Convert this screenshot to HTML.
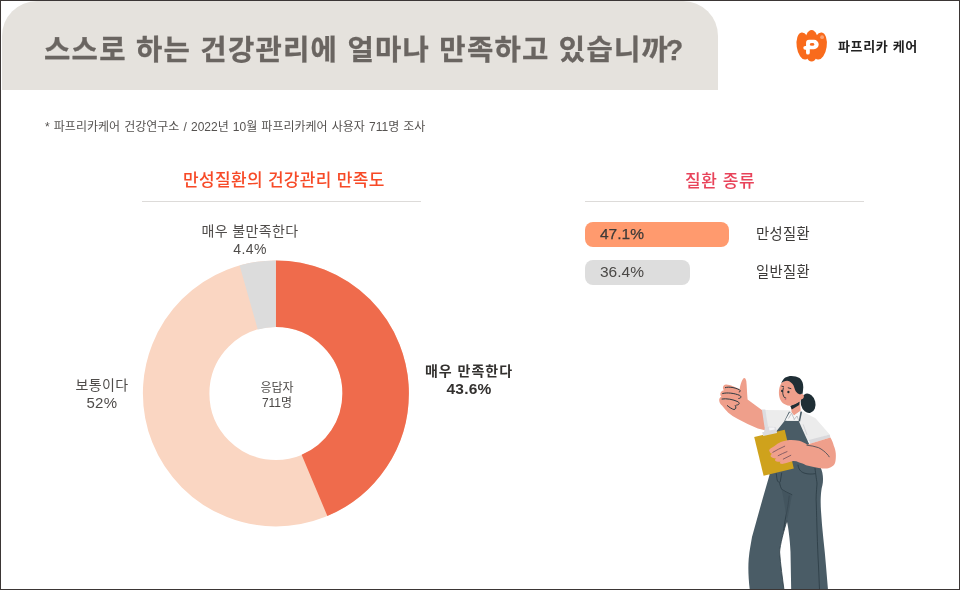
<!DOCTYPE html>
<html lang="ko">
<head>
<meta charset="utf-8">
<title>스스로 하는 건강관리 만족도</title>
<style>
  html, body { margin: 0; padding: 0; }
  body {
    width: 960px; height: 590px; overflow: hidden; background: #ffffff;
    font-family: "Liberation Sans", "Noto Sans CJK KR", sans-serif;
    color: #444240;
  }
  #frame {
    position: relative; width: 958px; height: 588px;
    border: 1px solid #3b3635; background: #ffffff; overflow: hidden;
  }
  .abs { position: absolute; white-space: nowrap; line-height: 1; will-change: transform; }
  #banner {
    position: absolute; left: 0.5px; top: 0; width: 716px; height: 88.5px;
    background: #e5e2dd; border-radius: 35px 35px 0 0;
  }
  #title { left: 43px; top: 35px; font-size: 28.6px; letter-spacing: 1.27px; font-weight: 700; color: #6a6561; -webkit-text-stroke: 0.3px #6a6561; }
  #title .q { margin-left: -3.5px; }
  #brand { left: 837px; top: 39px; font-size: 13px; letter-spacing: 0.65px; font-weight: 700; color: #222222; }
  #source { left: 44px; top: 120px; font-size: 12px; word-spacing: 0.8px; color: #555250; }
  .h { font-size: 17px; font-weight: 500; letter-spacing: 0.33px; }
  #h1 { left: 182px; top: 171px; color: #f74a27; }
  #h2 { left: 684px; top: 172px; color: #e8435a; letter-spacing: 0.6px; }
  .rule { position: absolute; height: 1px; background: #dddbd9; }
  #r1 { left: 141px; top: 200px; width: 279px; }
  #r2 { left: 584px; top: 200px; width: 279px; }
  .lbl { font-size: 14px; letter-spacing: 0.4px; text-align: center; line-height: 18px; color: #4f4c4a; }
  #l1 { left: 149px; width: 200px; top: 221px; }
  #l2 { left: 1px; width: 200px; top: 375px; }
  #l2 .n { font-size: 15px; line-height: 17px; }
  #l3 { left: 368px; width: 200px; top: 361px; font-weight: 700; letter-spacing: 1px; color: #33312f; }
  #l3 .n { font-size: 15.5px; letter-spacing: 0.2px; }
  #center { left: 176px; width: 200px; top: 380px; font-size: 12px; line-height: 15px; text-align: center; color: #4a4745; }
  .bar { position: absolute; height: 25px; border-radius: 8px; }
  #b1 { left: 584px; top: 221px; width: 144px; background: #ff9a6e; }
  #b2 { left: 584px; top: 259px; width: 105px; background: #dddddd; }
  .pct { font-size: 15.5px; color: #3c3a38; }
  #p1 { left: 599px; top: 225px; -webkit-text-stroke: 0.25px #3c3a38; }
  #p2 { left: 599px; top: 263px; color: #4a4846; }
  .cat { font-size: 14.3px; letter-spacing: 0.35px; color: #3c3a38; }
  #c1 { left: 755px; top: 226px; }
  #c2 { left: 755px; top: 264px; }
  svg { position: absolute; left: 0; top: 0; overflow: visible; }
</style>
</head>
<body>
<div id="frame">
  <div id="banner"></div>
  <div id="title" class="abs">스스로 하는 건강관리에 얼마나 만족하고 있습니까<span class="q">?</span></div>

  <div id="brand" class="abs">파프리카 케어</div>
  <div id="source" class="abs">* 파프리카케어 건강연구소 / 2022년 10월 파프리카케어 사용자 711명 조사</div>

  <div id="h1" class="abs h">만성질환의 건강관리 만족도</div>
  <div id="r1" class="rule"></div>
  <div id="h2" class="abs h">질환 종류</div>
  <div id="r2" class="rule"></div>

  <!-- donut chart -->
  <svg id="donut" width="958" height="588" viewBox="1 1 958 588">
    <g transform="translate(275.9 393.4)">
      <circle r="99.75" fill="none" stroke="#fad6c2" stroke-width="66.5"/>
      <circle r="99.75" fill="none" stroke="#ef6b4c" stroke-width="66.5" stroke-dasharray="273.26 1000" transform="rotate(-90)"/>
      <circle r="99.75" fill="none" stroke="#dcdcdc" stroke-width="66.5" stroke-dasharray="27.58 1000" transform="rotate(-105.84)"/>
    </g>
  </svg>

  <div id="l1" class="abs lbl">매우 불만족한다<br>4.4%</div>
  <div id="l2" class="abs lbl">보통이다<br><span class="n">52%</span></div>
  <div id="l3" class="abs lbl">매우 만족한다<br><span class="n">43.6%</span></div>
  <div id="center" class="abs">응답자<br>711명</div>

  <div id="b1" class="bar"></div>
  <div id="b2" class="bar"></div>
  <div id="p1" class="abs pct">47.1%</div>
  <div id="p2" class="abs pct">36.4%</div>
  <div id="c1" class="abs cat">만성질환</div>
  <div id="c2" class="abs cat">일반질환</div>

  <!-- logo + illustration svg -->
  <svg id="art" width="958" height="588" viewBox="1 1 958 588">
    <g id="logo">
      <g fill="#f96b1c">
        <ellipse cx="803.5" cy="46" rx="6.8" ry="13.7" transform="rotate(-8 803.5 46)"/>
        <ellipse cx="819.8" cy="46" rx="6.9" ry="13.7" transform="rotate(8 819.8 46)"/>
        <ellipse cx="811.6" cy="45.8" rx="7.3" ry="15.8"/>
        <rect x="801" y="36" width="21.5" height="19"/>
      </g>
      <circle cx="822.1" cy="37.2" r="1.9" fill="#fca274"/>
      <path fill="#ffffff" d="M806.05 42.8 A3 3 0 0 1 809.05 39.8 H814 A4.7 4.7 0 0 1 814 49.2 H809.8 V52.7 A1.875 1.875 0 0 1 806.05 52.7 V49.7 H805.15 A1.85 1.85 0 0 1 805.15 46 H806.05 Z"/>
      <ellipse cx="812.1" cy="44.4" rx="2.35" ry="1.3" fill="#f96b1c"/>
    </g>
    <g id="woman">
      <!-- left arm (thumbs up) -->
      <path fill="#ef9f8b" d="M744 378.1 C742.2 379 740.6 384 739.6 389.2 C736 387.2 730 384.6 726.2 384.4 C724.2 384.4 722.8 386 722.9 388 C723 389 723.4 389.8 723.9 390.3 C721.6 390.6 720.2 392.4 720.3 394.4 C720.4 395.4 720.8 396.2 721.4 396.7 C719.8 397.2 719 398.8 719.2 400.6 C719.4 402.6 720.4 404.2 722 405.6 C724 408.2 726 410.6 728.3 412.7 C731 415 734 417 737.4 418.8 L747.6 423.9 L757.8 428.5 L768 431 L768 410.5 L762.9 410.7 L755.7 405.6 L747.6 399.5 C747 393 746.9 386 746.3 381 C745.8 378.8 745 377.8 744 378.1 Z"/>
      <g fill="none" stroke="#2b3a42" stroke-width="1" stroke-linecap="round" stroke-linejoin="round">
        <path d="M725.4 387.6 C729 386.4 735 387.6 739.5 389.8 C740.6 390.6 740.6 391.8 739.2 392"/>
        <path d="M722.6 393.5 C727 392.2 734.5 393.2 739.7 395.4 C741.6 396.6 741.4 398.2 738.8 398.5"/>
        <path d="M722 399 C726.5 398.2 733 399.4 737.9 401.7 C740 403 739.6 404.8 736.6 405.1"/>
        <path d="M727.3 405.6 C729.5 407.5 732 409 733.9 409.5 C735.8 409.4 736.6 407.6 735.3 405.5"/>
      </g>
      <!-- shirt -->
      <path fill="#ececec" d="M763 410 L788 410.2 L801.3 411.1 L815.5 418.2 L829.7 434.5 L808.9 441 L800 444 L777 431 L766 431.5 Z"/>
      <!-- left cuff band -->
      <path fill="#dcdce0" d="M761.9 409.6 L765.3 409.4 L768 426.6 L764.6 427.4 Z"/>
      <!-- right cuff band -->
      <path fill="#d9d9dc" d="M808.9 440.1 L829.7 434.5 L830.4 437.6 L809.9 443.8 Z"/>
      <!-- overalls -->
      <path fill="#4a5c66" d="M784.7 420.8 L798.6 420.8 L804.3 433.5 L808.4 442.6 L820.3 467 C823.2 472 823.6 480 822.4 485.3 C821 490 820.2 500 821 511 C822 530 824.7 548 826 566 L828 590 L791.2 590 L790.5 552 C790 540 788.5 528 786.8 521 C784 530 780 545 779.6 552 C780.5 565 782.5 578 784 590 L749.8 590 C748.4 578 748 568 748.7 559 C749.5 550 751 543 752 537 L763 497.4 L769.5 475 L769 440 L777 430.5 Z"/>
      <!-- straps -->
      <path fill="none" stroke="#4a5c66" stroke-width="1.9" d="M789.9 412 L785.3 421.2"/>
      <path fill="none" stroke="#4a5c66" stroke-width="2.2" d="M801 411.6 L799 421.2"/>
      <!-- sleeve crease -->
      <path fill="none" stroke="#c9c9cd" stroke-width="0.7" stroke-linecap="round" d="M803.3 424.8 L806.9 434.5"/>
      <!-- overall detail lines -->
      <g fill="none" stroke="#2b3b44" stroke-width="0.8" stroke-linecap="round">
        <path d="M798 465 C798.6 469.5 800.6 471.7 804 473 C808 474.4 812 474.2 815 473.7"/>
        <path d="M815 468.3 C815.6 474 817 482 817 484 C816.4 492 815.8 498 816.3 504 C816.8 520 817.3 545 818.5 566 L819.5 590"/>
        <path d="M776.3 473.7 C776.6 477 777 480 777.6 481.2 C778.6 482.6 780.4 482.6 780.3 481.5 L781.7 473"/>
        <path d="M779.7 483.2 C780.2 486 781 488 781.7 489.3 C785 491.5 788.5 493.2 791.9 494.7"/>
        <path d="M789.2 496 C788.6 502 787.6 508 787 511 C785.5 518 784.2 524 783.7 530"/>
        <path d="M786.8 521 C784 530 780 545 779.6 552 C780.5 565 782.5 578 784 590"/>
      </g>
      <path fill="#3f505a" d="M781.7 489.3 C785 491.5 788.5 493.2 791.9 494.7 C790.5 503 789 512 786.8 521 C785.6 512 784 500 781.7 489.3 Z" opacity="0.6"/>
      <!-- clipboard -->
      <path fill="#cfa21c" d="M754.2 436.9 L784.7 429.7 L793.8 468.6 L763.6 475.7 Z"/>
      <path fill="#dcdce0" d="M765 426.6 L775.6 426.9 L776.2 430 L764 432.4 Z"/>
      <path fill="#dcdce0" d="M762.2 432.2 L776.4 429.4 L777.1 432.9 L763.2 436 Z"/>
      <path fill="#f4f4f6" d="M769 427.6 L774.4 427.6 L774.8 429.6 L769.4 430.4 Z"/>
      <!-- right arm -->
      <path fill="#ef9f8b" d="M769.6 451.6 C768.8 450.5 769.2 449.6 770.5 448.6 L774.2 446.2 C776.5 444.5 778.5 443.2 780.9 442.1 C783.8 440.9 786.7 440.3 789.7 440.1 C793 440 796.2 440.2 799.2 440.8 C802.2 441.7 805 443.2 807.4 444.8 L809.9 443.8 L830.4 437.6 C832 440 833 443 833.8 445.7 C835 448.5 835.6 451 835.8 453.8 C836 457 835.8 460 835.3 462 C834.6 464.5 833.5 465.8 832 466.5 C830.5 467.6 828.8 468.3 827 468.5 C822 468.6 816 467.5 811.4 466.4 L806 465.2 C803.5 464 801.5 463 799.2 462.5 C797 461.5 795 461 793.1 461.1 C790.5 461.6 788.5 462.6 786.4 463.1 C784.5 463.8 782 464.2 780.8 463.8 C779.6 463.4 779.6 462.4 780.6 461.8 C778 462 775.4 461.4 775 460.3 C774.8 459.4 775.6 458.8 776.5 458.4 C774 458.6 771 457.6 770.6 456.3 C770.4 455.2 771.2 454.4 772.2 453.8 C770.8 453.6 769.8 452.6 769.6 451.6 Z"/>
      <g fill="none" stroke="#6e4f5c" stroke-width="0.8" stroke-linecap="round">
        <path d="M772.8 452.3 C776.5 450.2 780.5 448 784.7 446.2"/>
        <path d="M778.2 455.7 C781 454.2 784 452.8 787 451.6"/>
        <path d="M783.3 459.1 C785.8 457.8 788.3 456.5 790.8 455.3"/>
      </g>
      <path fill="none" stroke="#3a4650" stroke-width="0.8" stroke-linecap="round" d="M806.9 445.2 C811 445.6 815 446.4 818.6 447.7 C822 449.3 825 451.8 827 454 C828 455 828.8 456 829.2 456.8"/>
      <!-- neck -->
      <path fill="#ef9f8b" d="M790.6 404.5 L800 401 L800.6 410.8 L794 415.6 L791.8 413 Z"/>
      <path fill="#1f2e35" d="M790.3 406 L799.6 401.4 L799.2 405 L791.8 409.4 Z"/>
      <!-- collar -->
      <path fill="#f6f6f6" d="M791.8 412.6 L794 415.6 L800.6 410.8 L798.8 420.8 L785 420.8 L789.6 412.4 Z"/>
      <g fill="none" stroke="#a9adb2" stroke-width="0.7" stroke-linecap="round" stroke-linejoin="round">
        <path d="M788.6 418.2 L791.6 413.2 L794.3 419.3"/>
        <path d="M794.3 419.3 L797 416 L798.4 419.6"/>
      </g>
      <!-- bun -->
      <ellipse cx="808.1" cy="403.2" rx="7.3" ry="9.8" fill="#1f2e35" transform="rotate(-14 808.1 403.2)"/>
      <!-- face -->
      <path fill="#ef9f8b" d="M781.2 383.2 C779.6 386 778.9 389.5 778.9 392.4 C778.9 395 779.4 397.6 780.2 399.5 C781.4 402 783.2 403.8 785.3 404.6 C786.8 405.4 788.3 405.8 789.8 405.8 C791.8 405.6 793.7 405 795.4 404.1 C797 403.3 798.4 402.4 799.5 401.5 C800.6 400.4 801.3 399.4 801.6 399.3 C803.6 399 804.4 396.6 803.6 395 C803 393.8 801.5 393.6 800.4 394.4 L797 381 L787 379 Z"/>
      <!-- hair -->
      <path fill="#1f2e35" d="M781.2 383.2 C782.2 380.8 783.6 378.9 785.3 377.6 C787.2 376.4 789.2 375.9 791.4 375.9 C794.5 375.9 797.3 376.7 799.5 378.1 C801.3 379.6 802.5 381.8 803 384.2 C803.4 386.2 803.4 388.3 803 390.3 C802.9 391.6 802.7 392.8 802.5 393.9 C801.8 393.7 801 393.8 800.2 394.6 C798.5 393.9 797 392.9 795.9 391.4 C794.6 389.5 794.3 387.3 793.4 385.3 C792.2 383 790 381.2 787.3 380.7 C785 380.6 783 381.6 781.2 383.2 Z"/>
      <!-- face features -->
      <g fill="#1f2e35">
        <ellipse cx="782" cy="390.9" rx="0.9" ry="1.2"/>
        <ellipse cx="788.4" cy="392" rx="1.1" ry="1.2"/>
      </g>
      <g fill="none" stroke="#1f2e35" stroke-width="0.9" stroke-linecap="round" stroke-linejoin="round">
        <path d="M781.8 386.2 L783.6 386.7"/>
        <path d="M788.2 387.8 L790.9 388.6"/>
        <path d="M783.3 388 C782.8 390 782.6 392 782.8 393.6 C783.2 395.4 783.8 396.8 784.4 397.5 L785.8 398"/>
      </g>
      <path fill="#d9607a" d="M784.2 398.7 L786.6 399.2 L785.4 400.3 Z"/>
    </g>
  </svg>
</div>
</body>
</html>
